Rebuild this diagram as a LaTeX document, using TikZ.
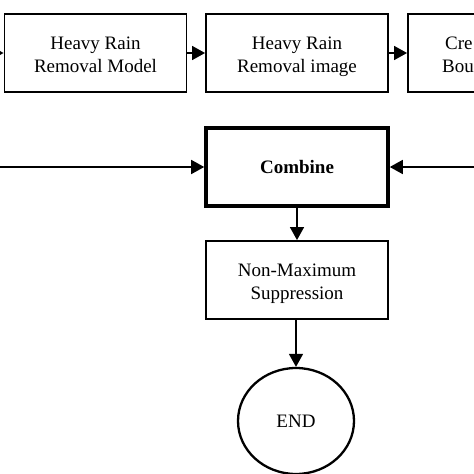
\documentclass[tikz,border=0pt]{standalone}
\usepackage{fontspec}
\setmainfont{Liberation Serif}
\usetikzlibrary{arrows.meta,shapes.geometric}
\newcommand{\tlines}[3][c]{\begin{tabular}{@{}#1@{}}\rule{0pt}{22.5pt}#2\\#3\end{tabular}}
\tikzset{
  procbox/.style={draw, line width=1.9pt, minimum width=182pt, minimum height=78pt, inner sep=0pt, align=center, font=\fontsize{19}{23}\selectfont},
  thickbox/.style={procbox, line width=3.6pt, font=\fontsize{19}{23}\selectfont\bfseries},
  endcirc/.style={draw, ellipse, line width=2.3pt, minimum width=116pt, minimum height=106pt, inner sep=0pt, font=\fontsize{19}{23}\selectfont},
  conn/.style={line width=1.6pt, -{Triangle[length=13pt,width=14pt]}},
}
\begin{document}
\begin{tikzpicture}[x=1pt,y=-1pt]
\useasboundingbox (0,0) rectangle (474,474);
\fill[white] (0,0) rectangle (474,474);
\clip (0,0) rectangle (474,474);
\node[procbox] (model) at (95.5,53) {\tlines{Heavy Rain}{Removal Model}};
\node[procbox] (image) at (297,53) {\tlines{Heavy Rain}{Removal image}};
\node[procbox] (bbox) at (499,53) {};
\node[anchor=west, inner sep=0pt, font=\fontsize{19}{23}\selectfont] (bboxtext) at (442,53) {\tlines[l]{\hspace*{3pt}Cre}{Bou}};
\node[thickbox] (combine) at (297,167) {Combine};
\node[procbox] (nms) at (297,280) {\tlines{Non-Maximum}{Suppression}};
\node[endcirc] (end) at (296,421) {END};
\coordinate (inleft) at (-20,53);
\coordinate (cleft) at (-2,167);
\coordinate (cright) at (480,167);
\draw[conn] (inleft) -- (model);
\draw[conn] (model) -- (image);
\draw[conn] (image) -- (bbox);
\draw[conn] (cleft) -- (combine);
\draw[conn] (cright) -- (combine);
\draw[conn] (combine) -- (nms);
\draw[conn] (nms.south -| end.north) -- (end.north);
\end{tikzpicture}
\end{document}
